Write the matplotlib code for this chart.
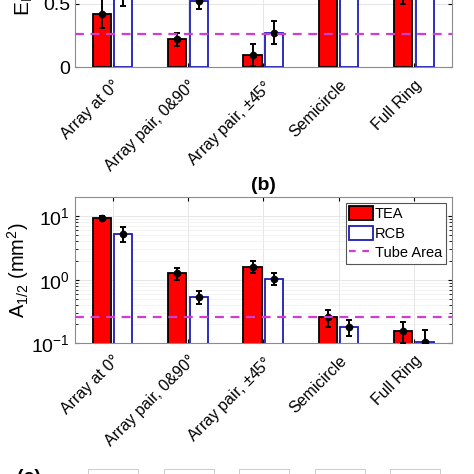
import numpy as np
import matplotlib.pyplot as plt
from matplotlib.patches import Patch
from matplotlib.lines import Line2D

plt.rcParams['font.family'] = ['Liberation Sans', 'DejaVu Sans']
plt.rcParams['mathtext.fontset'] = 'custom'
plt.rcParams['mathtext.rm'] = 'Liberation Sans'
plt.rcParams['mathtext.it'] = 'Liberation Sans'
plt.rcParams['axes.unicode_minus'] = False

# ---- data ----
categories = ['Array at 0°', 'Array pair, 0&90°', 'Array pair, $\\pm$45°',
              'Semicircle', 'Full Ring']

# panel (a): E_F (top of panel is cut off)
ef_tea = [0.42, 0.22, 0.10, 0.85, 0.56]
ef_tea_lo = [0.31, 0.17, 0.01, 0.75, 0.50]
ef_tea_hi = [0.55, 0.27, 0.18, 0.95, 0.62]
ef_rcb = [0.60, 0.52, 0.27, 0.90, 0.80]
ef_rcb_lo = [0.48, 0.46, 0.18, 0.80, 0.70]
ef_rcb_hi = [0.72, 0.58, 0.36, 1.00, 0.90]

# panel (b): A_1/2 in mm^2
a_tea = [9.3, 1.25, 1.58, 0.255, 0.155]
a_tea_lo = [8.4, 1.0, 1.25, 0.18, 0.10]
a_tea_hi = [10.1, 1.55, 1.95, 0.33, 0.22]
a_rcb = [5.2, 0.53, 1.02, 0.18, 0.105]
a_rcb_lo = [3.9, 0.42, 0.82, 0.13, 0.07]
a_rcb_hi = [6.6, 0.67, 1.25, 0.23, 0.16]

tube_area = 0.26

red = '#ff0000'
blue = '#1c1cb4'
mag = '#d23cd2'
x = np.arange(1, len(categories) + 1)
w = 0.24
off = 0.143


def style(ax):
    ax.set_xlim(0.5, 5.5)
    ax.set_xticks(x)
    ax.set_xticklabels(categories, rotation=45, ha='right', rotation_mode='anchor',
                       fontsize=11.5)
    ax.tick_params(direction='in', length=3, top=True, right=True)
    ax.tick_params(axis='x', pad=7)
    ax.grid(True, color='#e6e6e6', linewidth=0.7)
    ax.set_axisbelow(True)
    for s in ax.spines.values():
        s.set_color('#8c8c8c')
        s.set_linewidth(0.8)


def bars(ax, tea, tlo, thi, rcb, rlo, rhi):
    ax.bar(x - off, tea, w, color=red, edgecolor='black', linewidth=1.3, zorder=2)
    ax.bar(x + off, rcb, w, color='white', edgecolor=blue, linewidth=1.3, zorder=2)
    tea = np.array(tea); rcb = np.array(rcb)
    ax.errorbar(x - off, tea, yerr=[tea - np.array(tlo), np.array(thi) - tea],
                fmt='o', color='black', ms=4.5, capsize=2.5, elinewidth=1.4,
                capthick=1.4, zorder=3)
    ax.errorbar(x + off, rcb, yerr=[rcb - np.array(rlo), np.array(rhi) - rcb],
                fmt='o', color='black', ms=4.5, capsize=2.5, elinewidth=1.4,
                capthick=1.4, zorder=3)


fig = plt.figure(figsize=(4.74, 4.74), dpi=100)

# ---- panel (a), cut off at the top ----
ax1 = fig.add_axes([0.158, 0.8576, 0.795, 0.27])
bars(ax1, ef_tea, ef_tea_lo, ef_tea_hi, ef_rcb, ef_rcb_lo, ef_rcb_hi)
ax1.axhline(tube_area, color=mag, linestyle='--', linewidth=1.6, dashes=(4, 3), zorder=4)
ax1.set_ylim(0, 1)
ax1.set_yticks([0, 0.5, 1])
ax1.set_yticklabels(['0', '0.5', '1'])
style(ax1)
ax1.tick_params(axis='y', labelsize=14)
ax1.set_ylabel('E$_F$', fontsize=15, labelpad=6)

# ---- panel (b) ----
ax2 = fig.add_axes([0.158, 0.2757, 0.795, 0.309])
bars(ax2, a_tea, a_tea_lo, a_tea_hi, a_rcb, a_rcb_lo, a_rcb_hi)
ax2.axhline(tube_area, color=mag, linestyle='--', linewidth=1.6, dashes=(4, 3), zorder=4)
ax2.set_yscale('log')
ax2.set_ylim(0.1, 20)
style(ax2)
ax2.grid(True, which='minor', axis='y', color='#eeeeee', linewidth=0.5)
ax2.tick_params(axis='y', labelsize=14)
ax2.tick_params(axis='y', which='minor', direction='in', length=2, right=True)
ax2.set_ylabel('A$_{1/2}$ (mm$^2$)', fontsize=14.5, labelpad=0)
ax2.set_title('(b)', fontsize=14, fontweight='bold', pad=5)

handles = [Patch(facecolor=red, edgecolor='black', linewidth=1.3, label='TEA'),
           Patch(facecolor='white', edgecolor=blue, linewidth=1.3, label='RCB'),
           Line2D([], [], color=mag, linestyle='--', linewidth=1.6, dashes=(3, 3),
                  label='Tube Area')]
leg = ax2.legend(handles=handles, loc='upper right', fontsize=10.5, fancybox=False,
                 framealpha=1, edgecolor='#555555', handlelength=1.6,
                 handleheight=1.1, handletextpad=0.15, borderpad=0.25,
                 labelspacing=0.3, borderaxespad=0.4)
leg.get_frame().set_linewidth(0.8)

# ---- start of panel (c), cut off at the bottom ----
for i in range(5):
    cx = 88 + i * 75.5
    axc = fig.add_axes([cx / 474, -0.05, 50 / 474, 0.061])
    axc.set_xticks([0.33, 0.66]); axc.set_yticks([])
    axc.set_xticklabels([])
    axc.tick_params(direction='in', length=2, colors='#cccccc')
    for s in axc.spines.values():
        s.set_color('#cccccc')
        s.set_linewidth(0.7)
fig.text(0.035, -0.008, '(c)', fontsize=14, fontweight='bold', va='center')

fig.savefig('out.png', dpi=100)
